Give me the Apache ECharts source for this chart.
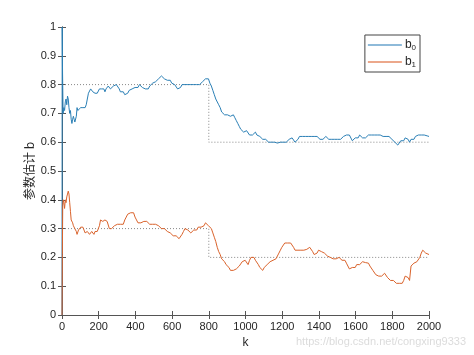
<!DOCTYPE html>
<html><head><meta charset="utf-8">
<script src="https://cdn.jsdelivr.net/npm/echarts@6/dist/echarts.min.js"></script>
<style>html,body{margin:0;padding:0;background:#fff}#c{width:474px;height:355px}</style>
</head><body><div id="c"></div>
<script>
const xTicks = [0,200,400,600,800,1000,1200,1400,1600,1800,2000];
const yTicks = [0,0.1,0.2,0.3,0.4,0.5,0.6,0.7,0.8,0.9,1];
const trueK = [0,800,800,2000];
const trueB0 = [0.8,0.8,0.6,0.6];
const trueB1 = [0.3,0.3,0.2,0.2];
const b0Data = [[0,0],[1,1.0],[3,0.84],[6,0.70],[10,0.72],[14,0.71],[18,0.74],[22,0.75],[26,0.73],[30,0.76],[34,0.75],[38,0.72],[42,0.70],[46,0.71],[50,0.68],[54,0.665],[58,0.68],[62,0.69],[66,0.68],[70,0.67],[74,0.665],[78,0.69],[82,0.72],[86,0.71],[90,0.715],[96,0.71],[102,0.72],[108,0.715],[114,0.72],[120,0.725],[126,0.72],[132,0.73],[138,0.75],[144,0.77],[150,0.775],[156,0.785],[162,0.78],[168,0.775],[174,0.78],[180,0.77],[186,0.775],[192,0.77],[198,0.775],[204,0.785],[210,0.79],[216,0.785],[222,0.78],[228,0.785],[234,0.775],[240,0.785],[246,0.79],[252,0.795],[258,0.79],[264,0.785],[272,0.79],[280,0.795],[288,0.79],[296,0.80],[304,0.795],[312,0.785],[318,0.775],[326,0.77],[334,0.775],[342,0.765],[350,0.76],[358,0.77],[366,0.78],[374,0.775],[382,0.785],[390,0.78],[398,0.79],[406,0.785],[414,0.79],[422,0.80],[430,0.795],[438,0.79],[446,0.795],[454,0.785],[462,0.78],[470,0.785],[478,0.795],[486,0.80],[494,0.805],[502,0.80],[510,0.81],[518,0.815],[526,0.82],[534,0.825],[542,0.83],[550,0.825],[558,0.82],[566,0.825],[574,0.815],[582,0.81],[590,0.815],[598,0.805],[606,0.80],[614,0.80],[622,0.795],[630,0.785],[638,0.78],[646,0.79],[654,0.80],[662,0.805],[670,0.80],[678,0.805],[686,0.80],[694,0.805],[702,0.80],[710,0.795],[718,0.80],[726,0.805],[734,0.80],[742,0.795],[750,0.80],[758,0.805],[766,0.81],[774,0.815],[782,0.82],[790,0.815],[798,0.82],[806,0.805],[814,0.795],[822,0.78],[830,0.765],[838,0.75],[846,0.745],[854,0.73],[862,0.72],[870,0.705],[878,0.70],[886,0.695],[894,0.70],[902,0.695],[910,0.695],[918,0.69],[926,0.69],[934,0.695],[942,0.685],[950,0.675],[958,0.665],[966,0.655],[974,0.645],[982,0.64],[990,0.635],[998,0.63],[1006,0.64],[1014,0.635],[1022,0.625],[1030,0.63],[1038,0.625],[1046,0.63],[1054,0.635],[1062,0.625],[1070,0.625],[1078,0.62],[1086,0.615],[1094,0.61],[1102,0.615],[1110,0.61],[1118,0.605],[1126,0.60],[1134,0.605],[1142,0.60],[1150,0.595],[1158,0.60],[1166,0.595],[1174,0.597],[1182,0.595],[1190,0.60],[1198,0.598],[1206,0.60],[1214,0.605],[1222,0.60],[1230,0.605],[1238,0.61],[1246,0.605],[1254,0.615],[1262,0.61],[1270,0.60],[1278,0.605],[1286,0.61],[1294,0.62],[1302,0.615],[1310,0.62],[1318,0.622],[1326,0.62],[1334,0.625],[1342,0.62],[1350,0.625],[1358,0.62],[1366,0.625],[1374,0.62],[1382,0.615],[1390,0.62],[1398,0.615],[1406,0.61],[1414,0.615],[1422,0.61],[1430,0.615],[1438,0.62],[1446,0.615],[1454,0.61],[1462,0.615],[1470,0.61],[1478,0.605],[1486,0.61],[1494,0.615],[1502,0.61],[1510,0.605],[1518,0.61],[1526,0.615],[1534,0.62],[1542,0.615],[1550,0.625],[1558,0.63],[1566,0.625],[1574,0.62],[1582,0.605],[1590,0.61],[1598,0.615],[1606,0.62],[1614,0.615],[1622,0.625],[1630,0.62],[1638,0.615],[1646,0.61],[1654,0.615],[1662,0.62],[1670,0.625],[1678,0.62],[1686,0.625],[1694,0.62],[1702,0.625],[1710,0.63],[1718,0.625],[1726,0.62],[1734,0.625],[1742,0.62],[1750,0.62],[1758,0.615],[1766,0.62],[1774,0.615],[1782,0.62],[1790,0.615],[1798,0.61],[1806,0.605],[1814,0.60],[1822,0.595],[1830,0.59],[1838,0.595],[1846,0.605],[1854,0.61],[1862,0.605],[1870,0.615],[1878,0.62],[1886,0.61],[1894,0.60],[1902,0.61],[1910,0.615],[1918,0.61],[1926,0.62],[1934,0.615],[1942,0.625],[1950,0.62],[1958,0.625],[1966,0.62],[1974,0.625],[1982,0.62],[1990,0.622],[2000,0.62]];
const b1Data = [[0,0],[2,0.21],[4,0.38],[7,0.40],[10,0.39],[14,0.37],[18,0.40],[22,0.39],[26,0.41],[30,0.42],[34,0.43],[38,0.42],[42,0.39],[46,0.36],[50,0.33],[54,0.325],[58,0.32],[62,0.31],[66,0.305],[70,0.30],[74,0.295],[78,0.29],[82,0.28],[86,0.285],[90,0.295],[96,0.30],[102,0.305],[108,0.30],[114,0.305],[120,0.295],[126,0.285],[132,0.28],[138,0.29],[144,0.285],[150,0.28],[156,0.285],[162,0.29],[168,0.285],[174,0.28],[180,0.29],[186,0.295],[192,0.29],[198,0.295],[204,0.31],[210,0.33],[216,0.33],[222,0.325],[228,0.325],[234,0.33],[240,0.325],[246,0.325],[252,0.32],[258,0.30],[264,0.295],[270,0.30],[278,0.305],[286,0.31],[294,0.31],[302,0.315],[310,0.31],[318,0.315],[326,0.32],[334,0.315],[342,0.33],[350,0.34],[358,0.35],[366,0.355],[374,0.355],[382,0.36],[390,0.355],[398,0.34],[406,0.33],[414,0.32],[422,0.325],[430,0.32],[438,0.315],[446,0.325],[454,0.32],[462,0.325],[470,0.32],[478,0.315],[486,0.32],[494,0.315],[502,0.31],[510,0.315],[518,0.31],[526,0.31],[534,0.305],[542,0.30],[550,0.305],[558,0.30],[566,0.295],[574,0.29],[582,0.285],[590,0.285],[598,0.28],[606,0.275],[614,0.28],[622,0.275],[630,0.27],[638,0.265],[646,0.27],[654,0.28],[662,0.29],[670,0.30],[678,0.305],[686,0.295],[694,0.29],[702,0.285],[710,0.29],[718,0.295],[726,0.30],[734,0.295],[742,0.305],[750,0.30],[758,0.305],[766,0.31],[774,0.31],[782,0.32],[790,0.315],[798,0.31],[806,0.305],[814,0.30],[822,0.285],[830,0.27],[838,0.255],[846,0.235],[854,0.22],[862,0.21],[870,0.195],[878,0.19],[886,0.185],[894,0.175],[902,0.17],[910,0.165],[918,0.155],[926,0.15],[934,0.155],[942,0.15],[950,0.16],[958,0.165],[966,0.17],[974,0.175],[982,0.185],[990,0.18],[998,0.19],[1006,0.185],[1014,0.175],[1022,0.19],[1030,0.20],[1038,0.195],[1046,0.20],[1054,0.19],[1062,0.19],[1070,0.175],[1078,0.165],[1086,0.16],[1094,0.155],[1102,0.165],[1110,0.17],[1118,0.175],[1126,0.18],[1134,0.185],[1142,0.185],[1150,0.19],[1158,0.19],[1166,0.195],[1174,0.20],[1182,0.215],[1190,0.225],[1198,0.235],[1206,0.24],[1214,0.25],[1222,0.255],[1230,0.25],[1238,0.245],[1246,0.25],[1254,0.245],[1262,0.235],[1270,0.225],[1278,0.22],[1286,0.225],[1294,0.22],[1302,0.225],[1310,0.222],[1318,0.225],[1326,0.23],[1334,0.228],[1342,0.233],[1350,0.235],[1358,0.23],[1366,0.22],[1374,0.21],[1382,0.205],[1390,0.215],[1398,0.225],[1406,0.225],[1414,0.22],[1422,0.222],[1430,0.215],[1438,0.21],[1446,0.205],[1454,0.21],[1462,0.20],[1470,0.205],[1478,0.195],[1486,0.20],[1494,0.195],[1502,0.19],[1510,0.20],[1518,0.195],[1526,0.19],[1534,0.185],[1542,0.19],[1550,0.18],[1558,0.175],[1566,0.16],[1574,0.155],[1582,0.165],[1590,0.17],[1598,0.165],[1606,0.175],[1614,0.17],[1622,0.175],[1630,0.18],[1638,0.185],[1646,0.18],[1654,0.182],[1662,0.178],[1670,0.18],[1678,0.17],[1686,0.165],[1694,0.155],[1702,0.15],[1710,0.14],[1718,0.145],[1726,0.135],[1734,0.13],[1742,0.135],[1750,0.14],[1758,0.145],[1766,0.14],[1774,0.13],[1782,0.125],[1790,0.12],[1798,0.118],[1806,0.12],[1814,0.115],[1822,0.11],[1830,0.108],[1838,0.11],[1846,0.105],[1854,0.11],[1862,0.12],[1870,0.135],[1878,0.14],[1886,0.13],[1894,0.12],[1902,0.17],[1910,0.175],[1918,0.18],[1926,0.175],[1934,0.185],[1942,0.19],[1950,0.20],[1958,0.215],[1966,0.225],[1974,0.22],[1982,0.215],[1990,0.218],[2000,0.21]];

const chart = echarts.init(document.getElementById('c'), null, {renderer:'canvas'});
const axisCol = '#555';
const txtCol = '#262626';
const font = 'Arial, "Liberation Sans", sans-serif';
const baseX = {type:'value', min:xTicks[0], max:xTicks[xTicks.length-1], interval:200,
  axisLine:{show:true, lineStyle:{color:axisCol, width:1}},
  axisTick:{show:true, inside:true, length:4, lineStyle:{color:axisCol}},
  splitLine:{show:false}};
const baseY = {type:'value', min:yTicks[0], max:yTicks[yTicks.length-1], interval:0.1,
  axisLine:{show:true, lineStyle:{color:axisCol, width:1}},
  axisTick:{show:true, inside:true, length:4, lineStyle:{color:axisCol}},
  splitLine:{show:false}};
const toPairs = (ks, vs) => ks.map((k,i)=>[k, vs[i]]);
chart.setOption({
  animation:false,
  backgroundColor:'#fff',
  grid:{left:62, right:45, top:27, bottom:40},
  legend:{
    data:['b0','b1'],
    right:54, top:35, orient:'vertical',
    backgroundColor:'#fff', borderColor:'#444', borderWidth:1,
    padding:[4,4,3,3], itemGap:4,
    icon:'rect', itemWidth:34, itemHeight:1,
    formatter: n => n === 'b0' ? 'b{s|0}' : 'b{s|1}',
    textStyle:{color:txtCol, fontSize:12, fontFamily:font, padding:[0,0,0,-2],
      rich:{s:{fontSize:8, verticalAlign:'bottom', padding:[6,0,0,0], fontFamily:font, color:txtCol}}}
  },
  xAxis:[
    Object.assign({}, baseX, {position:'bottom', name:'k', nameLocation:'middle', nameGap:22,
      nameMoveOverlap:false,
      nameTextStyle:{color:txtCol, fontSize:12, fontFamily:font},
      axisLabel:{color:txtCol, fontSize:11, fontFamily:font, margin:6, formatter: v => String(v)}}),
    Object.assign({}, baseX, {position:'top', axisLabel:{show:false}})
  ],
  yAxis:[
    Object.assign({}, baseY, {position:'left', name:'参数估计 b', nameLocation:'middle', nameGap:27, nameRotate:90,
      nameMoveOverlap:false,
      nameTextStyle:{color:txtCol, fontSize:12, fontFamily:'"Noto Sans CJK SC", sans-serif'},
      axisLabel:{color:txtCol, fontSize:11, fontFamily:font, margin:6}}),
    Object.assign({}, baseY, {position:'right', axisLabel:{show:false}})
  ],
  series:[
    {name:'b0', type:'line', data:b0Data, showSymbol:false, symbol:'none', color:'#1f77b4',
      lineStyle:{color:'#2a7fb5', width:1}, z:3},
    {name:'b1', type:'line', data:b1Data, showSymbol:false, symbol:'none', color:'#D95319',
      lineStyle:{color:'#d9622b', width:1}, z:4},
    {name:'true0', type:'line', data:toPairs(trueK,trueB0), showSymbol:false, symbol:'none',
      lineStyle:{color:'#888', width:1, type:[1,2]}, z:2},
    {name:'true1', type:'line', data:toPairs(trueK,trueB1), showSymbol:false, symbol:'none',
      lineStyle:{color:'#888', width:1, type:[1,2]}, z:2}
  ],
  graphic:[{type:'text', right:8, top:336, style:{text:'https://blog.csdn.net/congxing9333', fill:'rgba(190,190,190,0.55)', font:'11px Arial, sans-serif'}}]
});
</script></body></html>
